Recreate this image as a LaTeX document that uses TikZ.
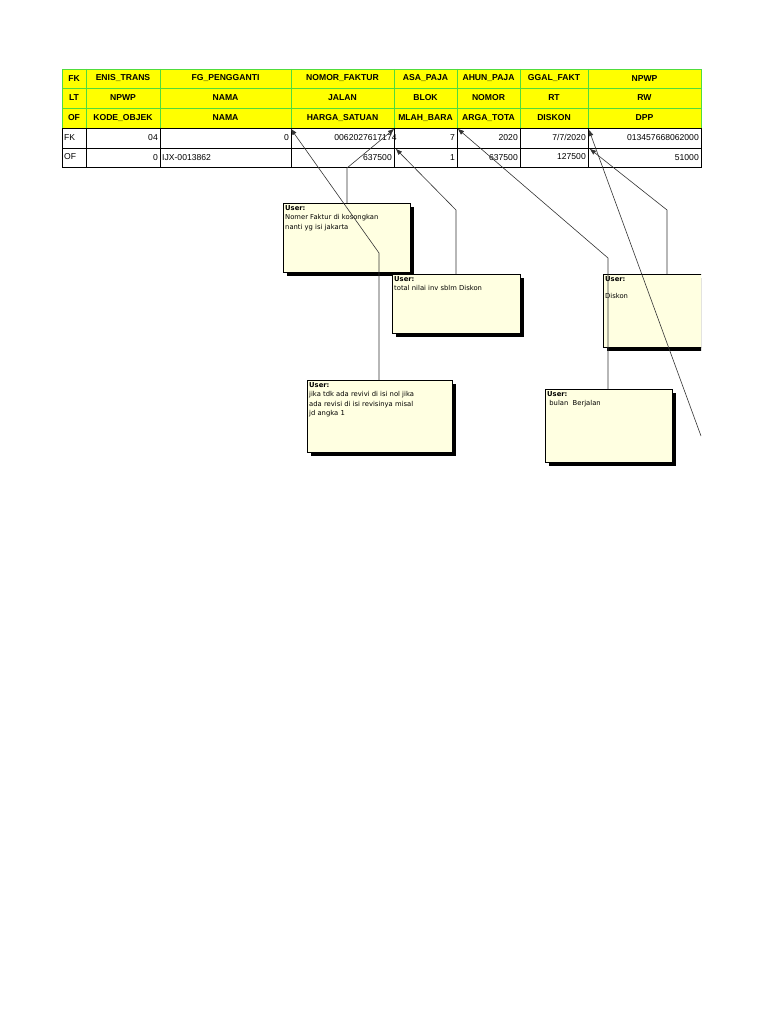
\documentclass[tikz,border=0pt]{standalone}
\usepackage{fontspec}
\setmainfont{Liberation Sans}
\newfontfamily\cmtfont{DejaVu Sans}
\usetikzlibrary{arrows.meta}
\definecolor{hdr}{RGB}{255,255,0}
\definecolor{grn}{RGB}{80,220,60}
\definecolor{note}{RGB}{255,255,225}
\tikzset{
  hcell/.style={font=\fontsize{8.6}{9}\selectfont\bfseries,inner sep=1pt},
  dcell/.style={font=\fontsize{8.6}{9}\selectfont,inner sep=2pt},
  notebox/.style={draw=black,line width=0.5pt,fill=note},
  shadowbox/.style={fill=black},
  notetext/.style={font=\cmtfont\fontsize{6.8}{9.5}\selectfont,align=left,anchor=north west,inner sep=1pt},
  leader/.style={draw=black!80,line width=0.6pt,-{Triangle[length=6pt,width=4.5pt]}}
}
\begin{document}
\begin{tikzpicture}[x=1pt,y=-1pt]
\useasboundingbox (0,0) rectangle (768,1024);
\fill[white] (0,0) rectangle (768,1024);
% header
\fill[hdr] (62,69) rectangle (701,128);
\draw[grn,line width=0.6pt] (62,69) rectangle (701,128);
\foreach \y in {88,108} \draw[grn,line width=0.6pt] (62,\y) -- (701,\y);
\foreach \x in {86,160,291,394,457,520,588} \draw[grn,line width=0.6pt] (\x,69) -- (\x,128);
% data
\draw[black,line width=0.5pt] (62,128) rectangle (701,167);
\draw[black,line width=0.5pt] (62,148) -- (701,148);
\foreach \x in {86,160,291,394,457,520,588} \draw[black,line width=0.5pt] (\x,128) -- (\x,167);
% header texts
\node[hcell] (h1a) at (74,78.5) {FK};
\node[hcell] (h1b) at (123,78.5) {ENIS\_TRANS};
\node[hcell] (h1c) at (225.5,78.5) {FG\_PENGGANTI};
\node[hcell] (h1d) at (342.5,78.5) {NOMOR\_FAKTUR};
\node[hcell] (h1e) at (425.5,78.5) {ASA\_PAJA};
\node[hcell] (h1f) at (488.5,78.5) {AHUN\_PAJA};
\node[hcell] (h1g) at (554,78.5) {GGAL\_FAKT};
\node[hcell] (h1h) at (644.5,78.5) {NPWP};
\node[hcell] (h2a) at (74,98) {LT};
\node[hcell] (h2b) at (123,98) {NPWP};
\node[hcell] (h2c) at (225.5,98) {NAMA};
\node[hcell] (h2d) at (342.5,98) {JALAN};
\node[hcell] (h2e) at (425.5,98) {BLOK};
\node[hcell] (h2f) at (488.5,98) {NOMOR};
\node[hcell] (h2g) at (554,98) {RT};
\node[hcell] (h2h) at (644.5,98) {RW};
\node[hcell] (h3a) at (74,118) {OF};
\node[hcell] (h3b) at (123,118) {KODE\_OBJEK};
\node[hcell] (h3c) at (225.5,118) {NAMA};
\node[hcell] (h3d) at (342.5,118) {HARGA\_SATUAN};
\node[hcell] (h3e) at (425.5,118) {MLAH\_BARA};
\node[hcell] (h3f) at (488.5,118) {ARGA\_TOTA};
\node[hcell] (h3g) at (554,118) {DISKON};
\node[hcell] (h3h) at (644.5,118) {DPP};
% data texts
\node[dcell,anchor=west] (d1a) at (62,137.5) {FK};
\node[dcell,anchor=east] (d1b) at (160,138) {04};
\node[dcell,anchor=east] (d1c) at (291,138) {0};
\node[dcell,anchor=east] (d1d) at (394,138) {006202761717\rlap{4}};
\node[dcell,anchor=east] (d1e) at (457,138) {7};
\node[dcell,anchor=east] (d1f) at (520,138) {2020};
\node[dcell,anchor=east] (d1g) at (588,137) {7/7/2020};
\node[dcell,anchor=east] (d1h) at (701,138) {013457668062000};
\node[dcell,anchor=west] (d2a) at (62,157) {OF};
\node[dcell,anchor=east] (d2b) at (160,157.5) {0};
\node[dcell,anchor=west] (d2c) at (160,157.5) {IJX-0013862};
\node[dcell,anchor=east] (d2d) at (394,157.5) {637500};
\node[dcell,anchor=east] (d2e) at (457,157.5) {1};
\node[dcell,anchor=east] (d2f) at (520,157.5) {637500};
\node[dcell,anchor=east] (d2g) at (588,157) {127500};
\node[dcell,anchor=east] (d2h) at (701,157.5) {51000};
% anchor points for arrows
\coordinate (tA) at (394,129);
\coordinate (tB) at (291,129);
\coordinate (tC) at (396,149);
\coordinate (tD) at (458,129);
\coordinate (tE) at (590,149);
\coordinate (tF) at (589,130);
% notes
\begin{scope}
\clip (0,0) rectangle (701,1024);
% note 1
\fill[shadowbox] (287,207) rectangle (414,276);
\draw[notebox] (283,203) rectangle (410,272);
\node[notetext] (n1) at (284,204) {\textbf{User:}\\Nomer Faktur di kosongkan\\nanti yg isi jakarta};
\coordinate (n1top) at (347,203);
% note 2
\fill[shadowbox] (396,278) rectangle (524,337);
\draw[notebox] (392,274) rectangle (520,333);
\node[notetext] (n2) at (393,275) {\textbf{User:}\\total nilai inv sblm Diskon};
\coordinate (n2top) at (456,274);
% note 3
\fill[shadowbox] (311,384) rectangle (456,456);
\draw[notebox] (307,380) rectangle (452,452);
\node[notetext] (n3) at (308,381) {\textbf{User:}\\jika tdk ada revivi di isi nol jika\\ada revisi di isi revisinya misal\\jd angka 1};
\coordinate (n3top) at (379,380);
% note 4
\fill[shadowbox] (607,278) rectangle (720,351);
\draw[notebox] (603,274) rectangle (716,347);
\node[notetext] (n4) at (604,275) {\textbf{User:}\\[8pt]Diskon};
\coordinate (n4top) at (667,274);
% note 5
\fill[shadowbox] (549,393) rectangle (676,466);
\draw[notebox] (545,389) rectangle (672,462);
\node[notetext] (n5) at (546,390) {\textbf{User:}\\\ bulan\ \ Berjalan};
\coordinate (n5top) at (608,389);
\coordinate (fEnd) at (701,436);
% leaders
\draw[leader] (n1top) -- (347,168) -- (tA);
\draw[leader] (n3top) -- (379,253) -- (tB);
\draw[leader] (n2top) -- (456,210) -- (tC);
\draw[leader] (n5top) -- (608,258) -- (tD);
\draw[leader] (n4top) -- (667,210) -- (tE);
\draw[leader] (fEnd) -- (tF);
\end{scope}
\end{tikzpicture}
\end{document}
